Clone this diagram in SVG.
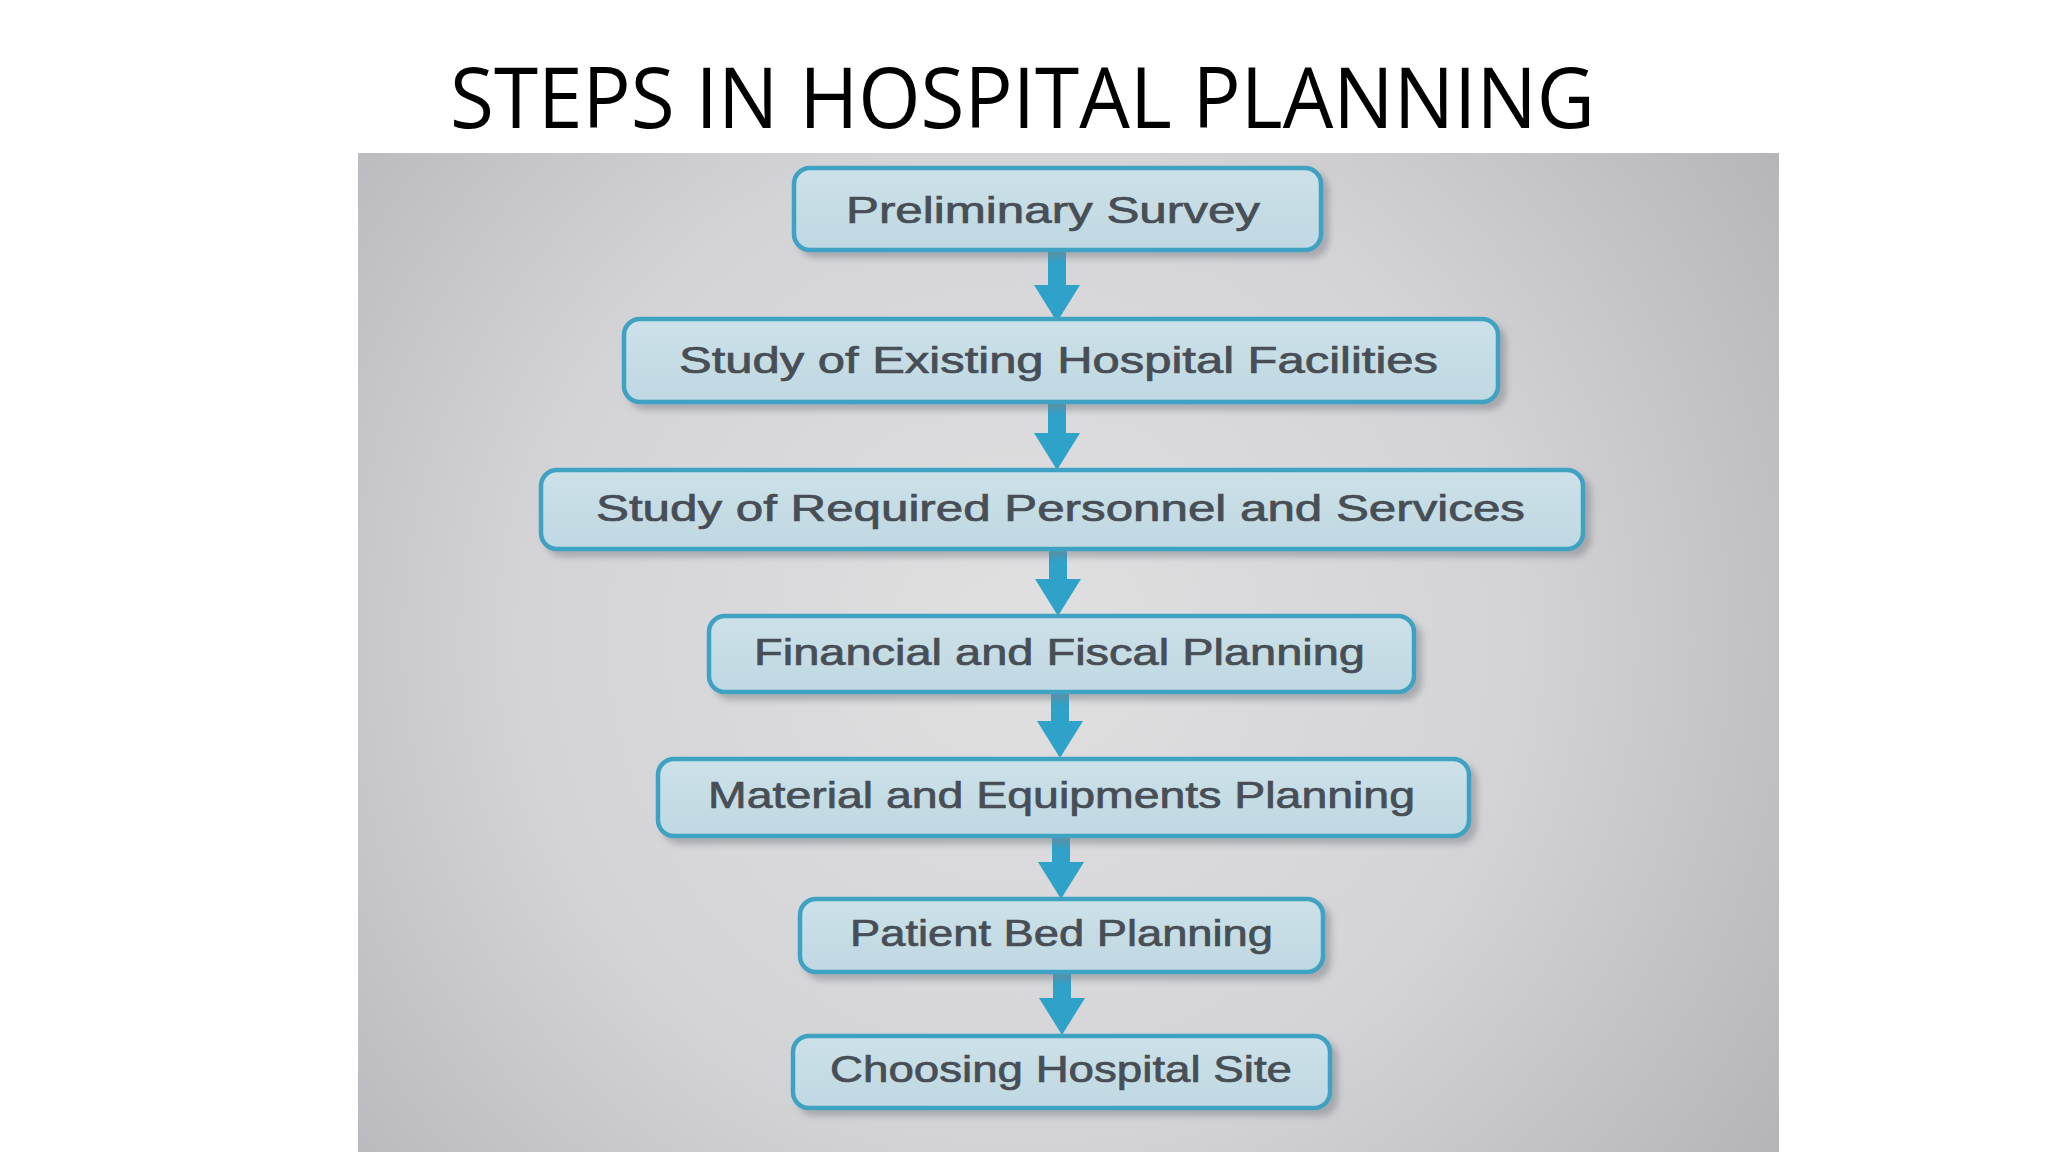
<svg xmlns="http://www.w3.org/2000/svg" width="2048" height="1152" viewBox="0 0 2048 1152">
<defs>
<radialGradient id="bg" cx="1020" cy="640" r="900" gradientUnits="userSpaceOnUse">
<stop offset="0" stop-color="#e0e0e1"/>
<stop offset="0.55" stop-color="#d4d4d7"/>
<stop offset="1" stop-color="#b6b5b9"/>
</radialGradient>
<linearGradient id="boxfill" x1="0" y1="0" x2="0" y2="1">
<stop offset="0" stop-color="#cde1e9"/>
<stop offset="1" stop-color="#bfd8e2"/>
</linearGradient>
<filter id="sh" x="-10%" y="-30%" width="125%" height="170%">
<feDropShadow dx="6" dy="6" stdDeviation="3" flood-color="#7c7f86" flood-opacity="0.5"/>
</filter>
</defs>
<style>
.box{fill:url(#boxfill);stroke:#3fa2c3;stroke-width:4.5;filter:url(#sh)}
.lbl{font-family:"Liberation Sans",Arial,sans-serif;font-size:36px;fill:#474e55;stroke:#474e55;stroke-width:0.7;text-anchor:start}
.arr{fill:#2ea2c9}
.title{font-family:"Open Sans","Liberation Sans",sans-serif;font-size:84px;fill:#000}
</style>
<rect width="2048" height="1152" fill="#ffffff"/>
<rect x="358" y="153" width="1421" height="999" fill="url(#bg)"/>
<text class="title" x="450" y="128" textLength="1145" lengthAdjust="spacingAndGlyphs">STEPS IN HOSPITAL PLANNING</text>
<g id="connectors">
<path class="arr" d="M1048,250 H1066 V285 H1080 L1057,322 L1034,285 H1048 Z"/>
<path class="arr" d="M1048,402 H1066 V433 H1080 L1057,470 L1034,433 H1048 Z"/>
<path class="arr" d="M1049,548 H1067 V579 H1081 L1058,616 L1035,579 H1049 Z"/>
<path class="arr" d="M1051,692 H1069 V721 H1083 L1060,758 L1037,721 H1051 Z"/>
<path class="arr" d="M1052,835 H1070 V862 H1084 L1061,899 L1038,862 H1052 Z"/>
<path class="arr" d="M1053,972 H1071 V998 H1085 L1062,1035 L1039,998 H1053 Z"/>
</g>
<g id="n1"><rect class="box" x="794" y="168" width="527" height="82" rx="16"/><text class="lbl" x="846" y="223" textLength="414" lengthAdjust="spacingAndGlyphs">Preliminary Survey</text></g>
<g id="n2"><rect class="box" x="624" y="319" width="874" height="83" rx="16"/><text class="lbl" x="679" y="373" textLength="759" lengthAdjust="spacingAndGlyphs">Study of Existing Hospital Facilities</text></g>
<g id="n3"><rect class="box" x="541" y="470" width="1042" height="79" rx="16"/><text class="lbl" x="596" y="521" textLength="929" lengthAdjust="spacingAndGlyphs">Study of Required Personnel and Services</text></g>
<g id="n4"><rect class="box" x="709" y="616" width="705" height="76" rx="16"/><text class="lbl" x="754" y="665" textLength="611" lengthAdjust="spacingAndGlyphs">Financial and Fiscal Planning</text></g>
<g id="n5"><rect class="box" x="658" y="759" width="811" height="77" rx="16"/><text class="lbl" x="708" y="808" textLength="707" lengthAdjust="spacingAndGlyphs">Material and Equipments Planning</text></g>
<g id="n6"><rect class="box" x="800" y="899" width="523" height="73" rx="16"/><text class="lbl" x="850" y="946" textLength="423" lengthAdjust="spacingAndGlyphs">Patient Bed Planning</text></g>
<g id="n7"><rect class="box" x="793" y="1036" width="537" height="72" rx="16"/><text class="lbl" x="830" y="1082" textLength="462" lengthAdjust="spacingAndGlyphs">Choosing Hospital Site</text></g>
</svg>
